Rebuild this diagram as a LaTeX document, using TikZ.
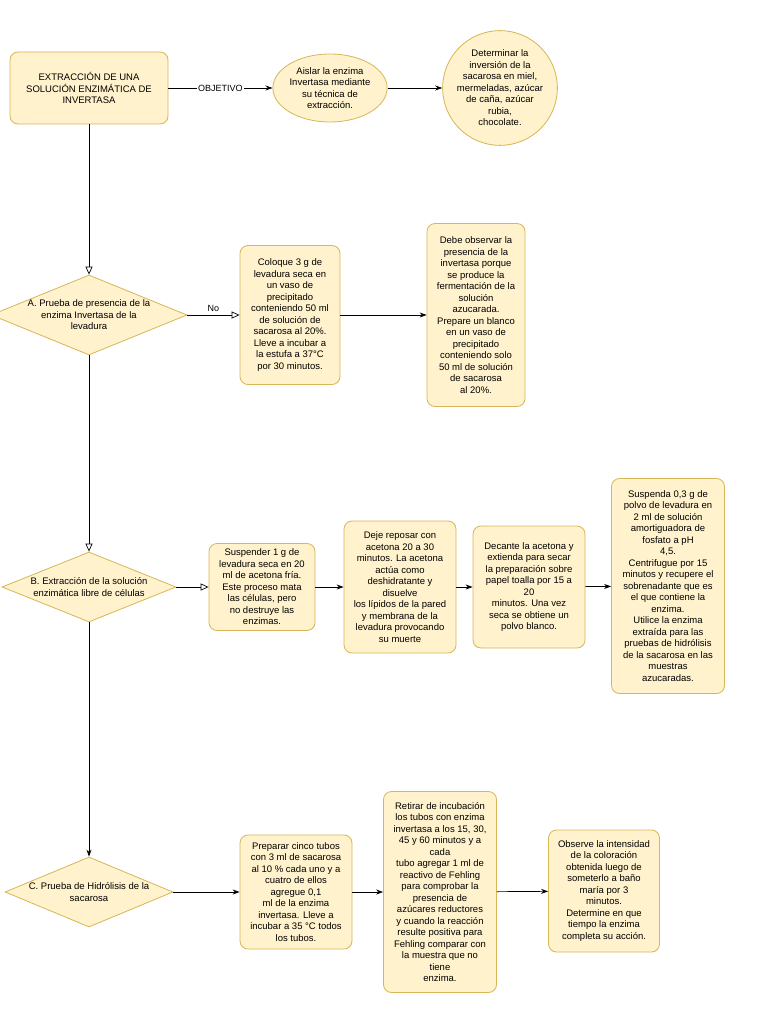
\documentclass[tikz,border=0pt]{standalone}
\usepackage{fontspec}
\setmainfont{Liberation Sans}
\usetikzlibrary{shapes.geometric,arrows.meta}
\definecolor{fillY}{HTML}{FFF2CC}
\definecolor{lineY}{HTML}{D6B656}
\tikzset{
 base/.style={draw=lineY,fill=fillY,line width=0.8pt,align=center,font=\fontsize{9.5}{11.5}\selectfont,inner sep=1pt},
 rbox/.style={base,rounded corners=8pt,minimum width=#1},
 dia/.style={base,diamond,aspect=2.45,minimum width=170pt,inner sep=0pt},
 fa/.style={-{Stealth[length=7pt,width=5pt]},line width=0.7pt},
 oa/.style={-{Triangle[open,length=8pt,width=7pt]},line width=0.7pt},
 lbl/.style={font=\fontsize{9}{10}\selectfont,fill=white,inner sep=1pt}
}
\begin{document}
\begin{tikzpicture}[x=1pt,y=-1pt]
\path[use as bounding box] (0,0) rectangle (768,1024);
\node[rbox=158pt,minimum height=72pt] (ex) at (89,88) {EXTRACCIÓN DE UNA\\SOLUCIÓN ENZIMÁTICA DE\\INVERTASA};
\node[base,ellipse,minimum width=110pt,minimum height=68pt,inner sep=0pt] (ais) at (330,88) {Aislar la enzima\\Invertasa mediante\\su técnica de\\extracción.};
\node[base,circle,minimum size=110pt,inner sep=0pt] (det) at (500,88) {Determinar la\\inversión de la\\sacarosa en miel,\\mermeladas, azúcar\\de caña, azúcar\\rubia,\\chocolate.};
\draw[fa] (ex) -- node[lbl]{OBJETIVO} (ais);
\draw[fa] (ais) -- (det);

\node[dia,minimum height=70pt] (da) at (89,315) {A. Prueba de presencia de la\\enzima Invertasa de la\\levadura};
\draw[oa] (ex) -- (da);
\node[rbox=100pt,minimum height=139pt] (a1) at (290,315) {Coloque 3 g de\\levadura seca en\\un vaso de\\precipitado\\conteniendo 50 ml\\de solución de\\sacarosa al 20\%.\\Lleve a incubar a\\la estufa a 37°C\\por 30 minutos.};
\node[rbox=98pt,minimum height=183pt] (a2) at (476,315) {Debe observar la\\presencia de la\\invertasa porque\\se produce la\\fermentación de la\\solución\\azucarada.\\Prepare un blanco\\en un vaso de\\precipitado\\conteniendo solo\\50 ml de solución\\de sacarosa\\al 20\%.};
\draw[oa] (da) -- node[lbl,above=2pt,fill=none]{No} (a1);
\draw[fa] (a1) -- (a2);

\node[dia,minimum width=174pt,minimum height=70pt] (db) at (89,587) {B. Extracción de la solución\\enzimática libre de células};
\draw[oa] (da) -- (db);
\node[rbox=106pt,minimum height=87pt] (b1) at (262,587) {Suspender 1 g de\\levadura seca en 20\\ml de acetona fría.\\Este proceso mata\\las células, pero\\no destruye las\\enzimas.};
\node[rbox=112pt,minimum height=132pt] (b2) at (400,587) {Deje reposar con\\acetona 20 a 30\\minutos. La acetona\\actúa como\\deshidratante y\\disuelve\\los lípidos de la pared\\y membrana de la\\levadura provocando\\su muerte};
\node[rbox=112pt,minimum height=122pt] (b3) at (529,587) {Decante la acetona y\\extienda para secar\\la preparación sobre\\papel toalla por 15 a\\20\\minutos. Una vez\\seca se obtiene un\\polvo blanco.};
\node[rbox=113pt,minimum height=215pt] (b4) at (668,586) {Suspenda 0,3 g de\\polvo de levadura en\\2 ml de solución\\amortiguadora de\\fosfato a pH\\4,5.\\Centrifugue por 15\\minutos y recupere el\\sobrenadante que es\\el que contiene la\\enzima.\\Utilice la enzima\\extraída para las\\pruebas de hidrólisis\\de la sacarosa en las\\muestras\\azucaradas.};
\draw[oa] (db) -- (b1);
\draw[fa] (b1) -- (b2);
\draw[fa] (b2) -- (b3);
\draw[fa] (b3) -- (b4);

\node[dia,minimum width=168pt,minimum height=70pt] (dc) at (89,892) {C. Prueba de Hidrólisis de la\\sacarosa};
\draw[fa] (db) -- (dc);
\node[rbox=112pt,minimum height=114pt] (c1) at (296,892) {Preparar cinco tubos\\con 3 ml de sacarosa\\al 10 \% cada uno y a\\cuatro de ellos\\agregue 0,1\\ml de la enzima\\invertasa. Lleve a\\incubar a 35 °C todos\\los tubos.};
\node[rbox=113pt,minimum height=201pt] (c2) at (440,892) {Retirar de incubación\\los tubos con enzima\\invertasa a los 15, 30,\\45 y 60 minutos y a\\cada\\tubo agregar 1 ml de\\reactivo de Fehling\\para comprobar la\\presencia de\\azúcares reductores\\y cuando la reacción\\resulte positiva para\\Fehling comparar con\\la muestra que no\\tiene\\enzima.};
\node[rbox=111pt,minimum height=122pt] (c3) at (604,891) {Observe la intensidad\\de la coloración\\obtenida luego de\\someterlo a baño\\maría por 3\\minutos.\\Determine en que\\tiempo la enzima\\completa su acción.};
\draw[fa] (dc) -- (c1);
\draw[fa] (c1) -- (c2);
\draw[fa] (c2) -- (c3);
\end{tikzpicture}
\end{document}
